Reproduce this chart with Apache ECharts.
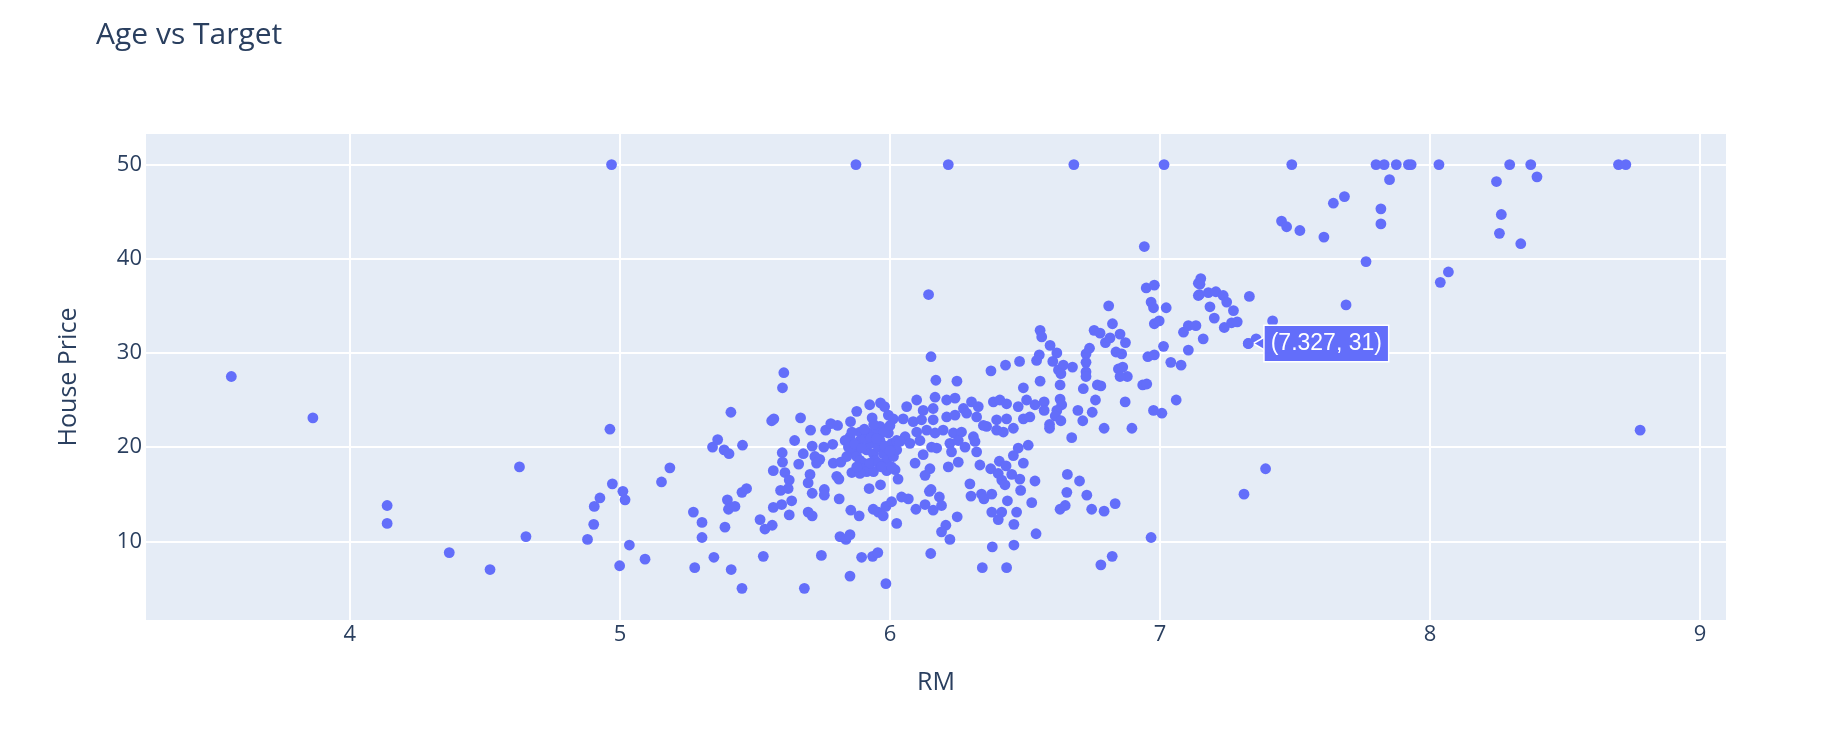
<!DOCTYPE html>
<html>
<head>
<meta charset="utf-8">
<script src="https://cdn.jsdelivr.net/npm/echarts@6/dist/echarts.min.js"></script>
<style>
  html, body { margin: 0; padding: 0; background: #fff; }
  #chart { width: 1834px; height: 732px; }
</style>
</head>
<body>
<div id="chart"></div>
<script>
// ---- Data: [RM, House Price] ----
const pointsLow = [
  [3.561,27.5],[3.863,23.1],[4.138,13.8],[4.138,11.9],[4.368,8.8],[4.519,7.0],[4.628,17.9],[4.652,10.5],
  [4.880,10.2],[4.903,11.8],[4.905,13.7],[4.926,14.6],[4.963,21.9],[4.969,50],[4.972,16.1],[4.999,7.4],
  [5.011,15.3],[5.019,14.4],[5.035,9.6],[5.093,8.1],[5.154,16.3],[5.185,17.8],[5.272,13.1],[5.277,7.2],
  [5.304,12.0],[5.304,10.4],[5.343,20.0],[5.348,8.3],[5.362,20.8],[5.386,19.7],[5.389,11.5],[5.398,14.4],
  [5.402,13.4],[5.404,19.3],[5.411,23.7],[5.412,7.0],[5.426,13.7],[5.452,15.2],[5.452,5.0],[5.454,20.2],
  [5.469,15.6]
];
const pointsMidLow = [
  [5.607,27.9],[5.602,26.3],[5.562,22.8],[5.570,23.0],[5.669,23.1],[5.706,21.8],[5.647,20.7],[5.762,21.8],
  [5.781,22.5],[5.806,22.3],[5.854,22.7],[5.877,23.8],[5.925,24.5],[5.965,24.7],[5.980,24.3],[5.934,23.1],
  [5.994,23.4],[6.012,23.0],[5.852,21.1],[5.889,21.6],[5.712,20.1],[5.679,19.3],[5.601,19.4],[5.602,18.4],
  [5.662,18.2],[5.568,17.5],[5.611,17.3],[5.627,16.5],[5.704,17.1],[5.697,16.2],[5.722,19.0],[5.740,18.7],
  [5.728,18.3],[5.755,20.0],[5.788,20.3],[5.790,18.3],[5.818,18.4],[5.803,16.9],[5.811,16.6],[5.712,15.1],
  [5.757,15.5],[5.757,14.9],[5.812,14.5],[5.595,15.4],[5.623,15.6],[5.636,14.3],[5.568,13.6],[5.599,13.9],
  [5.627,12.8],[5.697,13.1],[5.712,12.7],[5.519,12.3],[5.537,11.3],[5.564,11.7],[5.855,13.3],[5.886,12.7],
  [5.923,15.6],[5.965,16.0],[5.938,13.4],[5.957,13.1],[5.975,12.7],[5.985,13.7],[6.006,14.2],[6.025,11.9],
  [5.815,10.5],[5.837,10.2],[5.852,10.7],[5.531,8.4],[5.746,8.5],[5.895,8.3],[5.936,8.4],[5.955,8.8],
  [5.852,6.3],[5.683,5.0],[5.985,5.5],[6.030,16.6]
];
const pointsMidDense = [
  [5.834,20.7],[5.846,20.0],[5.865,19.5],[5.877,19.0],[5.889,18.6],[5.902,18.3],[5.914,19.7],[5.926,20.4],
  [5.939,19.3],[5.945,18.6],[5.957,20.0],[5.963,20.7],[5.976,19.3],[5.988,18.6],[5.994,21.5],[6.007,20.4],
  [6.013,19.0],[6.025,19.7],[6.025,20.7],[5.859,21.6],[5.889,20.7],[5.908,20.9],[5.920,21.5],[5.951,21.6],
  [5.963,22.2],[5.978,21.6],[6.000,22.3],[5.896,17.7],[5.914,17.4],[5.939,17.4],[5.859,17.3],[5.889,17.2],
  [5.988,17.5],[6.019,17.6],[5.840,19.0],[5.877,17.9],[5.926,18.3],[5.957,18.3],[5.969,17.9],[6.006,17.9],
  [5.870,20.3],[5.895,19.9],[5.930,21.0],[5.950,20.9],[5.982,20.1],[6.000,19.6],[5.905,21.9],[5.940,22.4]
];
const pointsMid = [
  [6.143,36.2],[6.152,29.6],[6.170,27.1],[6.248,27.0],[6.374,28.1],[6.428,28.7],[6.480,29.1],[6.494,26.3],
  [6.553,29.8],[6.543,29.2],
  [6.062,24.3],[6.099,25.0],[6.123,23.9],[6.160,24.1],[6.167,25.3],[6.210,25.0],[6.241,25.2],[6.272,24.1],
  [6.302,24.8],[6.327,24.3],[6.383,24.8],[6.407,25.0],[6.432,24.6],[6.475,24.3],[6.506,25.0],[6.537,24.5],
  [6.049,23.0],[6.086,22.7],[6.117,22.9],[6.160,22.9],[6.210,23.2],[6.241,23.4],[6.284,23.6],[6.321,23.2],
  [6.358,22.2],[6.395,22.9],[6.432,23.0],[6.457,22.0],[6.494,23.0],[6.518,23.2],
  [6.056,21.1],[6.099,21.6],[6.136,21.8],[6.167,21.5],[6.197,21.8],[6.235,21.5],[6.265,21.6],[6.309,21.1],
  [6.346,22.3],[6.395,21.8],[6.420,21.6],
  [6.037,20.6],[6.074,20.4],[6.111,20.7],[6.154,20.0],[6.222,20.4],[6.253,20.7],[6.278,20.0],[6.315,20.6],
  [6.123,19.2],[6.173,19.9],[6.228,19.5],[6.321,19.5],
  [6.093,18.3],[6.148,17.7],[6.130,17.0],[6.216,17.9],[6.253,18.4],[6.333,18.1],[6.373,17.7],[6.405,18.5],
  [6.430,18.0],[6.457,19.1],[6.475,19.9],[6.512,20.2],[6.494,18.3],[6.401,17.2],[6.414,16.5],[6.426,16.0],
  [6.451,17.1],[6.481,16.6],[6.537,16.4],[6.484,15.4],[6.525,14.1],[6.435,14.3],[6.469,13.1],
  [6.296,16.1],[6.300,14.8],[6.339,15.0],[6.348,14.5],[6.377,15.0],
  [6.146,15.3],[6.152,15.5],[6.183,14.7],[6.191,13.8],[6.160,13.3],[6.130,13.9],[6.096,13.4],[6.068,14.5],
  [6.043,14.7],
  [6.377,13.1],[6.414,13.1],[6.401,12.3],[6.459,11.8],[6.249,12.6],[6.207,11.7],[6.191,11.0],[6.222,10.2],
  [6.541,10.8],[6.151,8.7],[6.379,9.4],[6.459,9.6],[6.342,7.2],[6.432,7.2]
];
const pointsMidHigh = [
  [6.942,41.3],[6.949,36.9],[6.979,37.2],[6.967,35.4],[6.976,34.8],[7.023,34.8],[6.979,33.1],[6.997,33.4],
  [6.810,35.0],[6.824,33.1],[6.756,32.4],[6.778,32.1],[6.798,31.1],[6.815,31.6],[6.852,32.0],[6.872,31.1],
  [6.837,30.1],[6.858,29.9],[6.846,28.3],[6.862,28.5],[6.879,27.5],[6.852,27.5],[6.955,29.6],[6.979,29.8],
  [7.013,30.7],[7.040,29.0],[7.078,28.7],[7.087,32.2],[7.105,32.9],[7.133,32.9],[7.142,37.4],[7.142,36.1],
  [7.105,30.3],[7.060,25.0],[6.936,26.6],[6.951,26.7],[6.976,23.9],[7.007,23.6],[6.871,24.8],[6.896,22.0],
  [6.793,22.0],[6.739,30.5],[6.726,29.9],[6.726,29.0],[6.726,28.0],[6.726,27.5],[6.716,26.2],[6.768,26.6],
  [6.781,26.5],[6.761,25.0],[6.696,23.9],[6.714,22.8],[6.749,23.7],[6.673,21.0],
  [6.556,32.4],[6.562,31.7],[6.593,30.8],[6.618,30.0],[6.603,29.1],[6.624,28.2],[6.642,28.7],[6.676,28.5],
  [6.633,27.8],[6.630,26.6],[6.556,27.0],[6.630,25.1],[6.636,24.5],[6.618,23.9],[6.612,23.3],[6.571,24.8],
  [6.571,23.9],[6.591,22.4],[6.591,22.0],[6.633,22.8],
  [6.657,17.1],[6.702,16.4],[6.655,15.2],[6.729,14.9],[6.630,13.4],[6.649,13.8],[6.747,13.4],[6.793,13.2],
  [6.834,14.0],[6.967,10.4],[6.823,8.4],[6.781,7.5]
];
const pointsHigh = [
  [5.874,50],[6.216,50],[6.681,50],[7.015,50],
  [7.488,50],[7.800,50],[7.830,50],[7.875,50],[7.920,50],[7.930,50],[7.850,48.4],[7.642,45.9],[7.683,46.6],
  [7.818,45.3],[7.818,43.7],[7.450,44.0],[7.469,43.4],[7.518,43.0],[7.607,42.3],[7.763,39.7],[7.689,35.1],
  [7.331,36.0],[7.151,37.9],[7.148,37.3],[7.146,36.2],[7.179,36.4],[7.207,36.5],[7.234,36.1],[7.247,35.4],
  [7.272,34.5],[7.185,34.9],[7.201,33.7],[7.238,32.7],[7.265,33.2],[7.286,33.3],[7.160,31.5],[7.417,33.4],
  [7.327,31.0],[7.356,31.5],[7.391,17.7],[7.311,15.0],
  [8.033,50],[8.295,50],[8.373,50],[8.698,50],[8.725,50],[8.246,48.2],[8.396,48.7],[8.264,44.7],
  [8.257,42.7],[8.336,41.6],[8.068,38.6],[8.038,37.5],[8.778,21.8]
];
const hoverPoint = [7.327, 31];
const hoverText = '(7.327, 31)';

// ---- Axis ticks ----
const xTicks = [4, 5, 6, 7, 8, 9];
const yTicks = [10, 20, 30, 40, 50];

const allPoints = [].concat(pointsLow, pointsMidLow, pointsMidDense, pointsMid, pointsMidHigh, pointsHigh);

const FONT = '"Open Sans", "Noto Sans", sans-serif';
const INK = '#2a3f5f';
const MARKER = '#636efa';

const chart = echarts.init(document.getElementById('chart'), null, { renderer: 'canvas' });
chart.setOption({
  backgroundColor: '#ffffff',
  animation: false,
  title: {
    text: 'Age vs Target',
    left: 91,
    top: 15,
    textStyle: { fontFamily: FONT, fontSize: 30, fontWeight: 'normal', color: INK }
  },
  grid: {
    left: 146, right: 108, top: 134, bottom: 112,
    show: true, backgroundColor: '#E5ECF6', borderWidth: 0
  },
  xAxis: {
    type: 'value',
    min: 3.245, max: 9.096,
    name: 'RM',
    nameLocation: 'middle',
    nameGap: 50,
    nameTextStyle: { fontFamily: FONT, fontSize: 25, color: INK },
    axisLine: { show: false },
    axisTick: { show: false, customValues: xTicks },
    axisLabel: { customValues: xTicks, fontFamily: FONT, fontSize: 22, color: INK, margin: 4 },
    splitLine: { show: true, lineStyle: { color: '#ffffff', width: 2 } }
  },
  yAxis: {
    type: 'value',
    min: 1.64, max: 53.25,
    name: 'House Price',
    nameLocation: 'middle',
    nameGap: 65,
    nameRotate: 90,
    nameTextStyle: { fontFamily: FONT, fontSize: 25, color: INK },
    axisLine: { show: false },
    axisTick: { show: false, customValues: yTicks },
    axisLabel: { customValues: yTicks, fontFamily: FONT, fontSize: 22, color: INK, margin: 4 },
    splitLine: { show: true, lineStyle: { color: '#ffffff', width: 2 } }
  },
  series: [
    {
      type: 'scatter',
      data: allPoints,
      symbol: 'circle',
      symbolSize: 10.8,
      itemStyle: { color: MARKER, opacity: 1 },
      silent: true,
      z: 2
    },
    {
      type: 'scatter',
      data: [hoverPoint],
      symbol: 'circle',
      symbolSize: 10.8,
      itemStyle: { color: MARKER, opacity: 1 },
      silent: true,
      z: 5,
      label: {
        show: true,
        position: 'right',
        distance: 11,
        formatter: hoverText,
        backgroundColor: MARKER,
        borderColor: '#ffffff',
        borderWidth: 1.5,
        padding: [6, 6, 6, 6],
        color: '#ffffff',
        opacity: 1,
        fontSize: 23,
        fontFamily: '"Liberation Sans", Arial, sans-serif'
      },
      markPoint: {
        silent: true,
        animation: false,
        data: [{
          coord: hoverPoint,
          symbol: 'triangle',
          symbolSize: [14, 12],
          symbolRotate: 90,
          symbolOffset: [11, 0],
          itemStyle: { color: MARKER, opacity: 1, borderColor: '#ffffff', borderWidth: 1.5 },
          label: { show: false }
        }]
      }
    }
  ]
});
</script>
</body>
</html>
